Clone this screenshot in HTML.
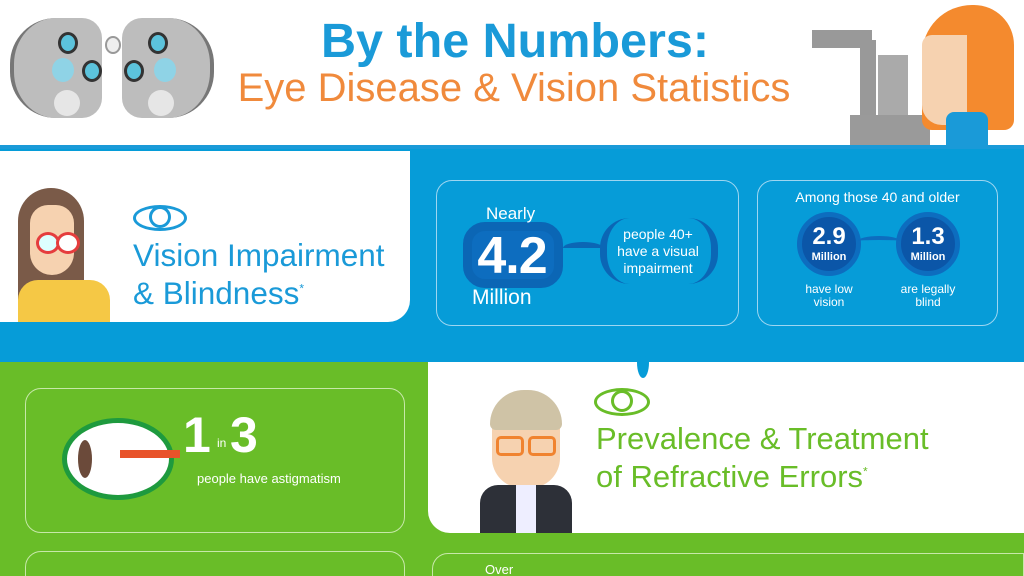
<!DOCTYPE html>
<html style="width:1024px;height:576px;overflow:hidden"><head><meta charset="utf-8"><style>
*{margin:0;padding:0;box-sizing:border-box}
body{width:1024px;height:576px;overflow:hidden;position:relative;background:#fff;font-family:"Liberation Sans",sans-serif}
.a{position:absolute}
.t{position:absolute;white-space:nowrap}
</style></head><body>
<div class="a" style="left:0;top:0;width:1024px;height:576px;overflow:hidden">
<div class="t" style="left:0;width:1030px;top:13px;text-align:center;font-size:48.5px;font-weight:bold;color:#1a9ad8">By the Numbers:</div>
<div class="t" style="left:0;width:1028px;top:66px;text-align:center;font-size:40px;color:#f08a3c">Eye Disease &amp; Vision Statistics</div>
<div class="a" style="left:10px;top:18px;width:92px;height:100px;background:#bdbdbd;border-radius:46px 20px 20px 46px;border-left:4px solid #777"></div>
<div class="a" style="left:122px;top:18px;width:92px;height:100px;background:#bdbdbd;border-radius:20px 46px 46px 20px;border-right:4px solid #777"></div>
<div class="a" style="left:58px;top:32px;width:20px;height:22px;border-radius:50%;background:#5cc3dc;border:3px solid #333"></div>
<div class="a" style="left:148px;top:32px;width:20px;height:22px;border-radius:50%;background:#5cc3dc;border:3px solid #333"></div>
<div class="a" style="left:82px;top:60px;width:20px;height:22px;border-radius:50%;background:#5cc3dc;border:3px solid #333"></div>
<div class="a" style="left:124px;top:60px;width:20px;height:22px;border-radius:50%;background:#5cc3dc;border:3px solid #333"></div>
<div class="a" style="left:52px;top:58px;width:22px;height:24px;border-radius:50%;background:#8fd3e6"></div>
<div class="a" style="left:154px;top:58px;width:22px;height:24px;border-radius:50%;background:#8fd3e6"></div>
<div class="a" style="left:54px;top:90px;width:26px;height:26px;border-radius:50%;background:#e6e6e6"></div>
<div class="a" style="left:148px;top:90px;width:26px;height:26px;border-radius:50%;background:#e6e6e6"></div>
<div class="a" style="left:105px;top:36px;width:16px;height:18px;border-radius:50%;background:#eee;border:2px solid #999"></div>
<div class="a" style="left:812px;top:30px;width:60px;height:18px;background:#999"></div>
<div class="a" style="left:860px;top:40px;width:16px;height:90px;background:#999"></div>
<div class="a" style="left:878px;top:55px;width:30px;height:70px;background:#aaa"></div>
<div class="a" style="left:850px;top:115px;width:80px;height:32px;background:#9a9a9a"></div>
<div class="a" style="left:922px;top:5px;width:92px;height:125px;background:#f48a2e;border-radius:50px 40px 10px 10px"></div>
<div class="a" style="left:922px;top:35px;width:45px;height:90px;background:#f6d2b0;border-radius:10px 0 0 20px"></div>
<div class="a" style="left:946px;top:112px;width:42px;height:36px;background:#1a9ad8;border-radius:8px 8px 0 0"></div>
<div class="a" style="left:0;top:145px;width:1024px;height:4px;background:#1a9ad8"></div>
<div class="a" style="left:0;top:149px;width:1024px;height:213px;background:#069cd8"></div>
<div class="a" style="left:0;top:151px;width:410px;height:171px;background:#fff;border-radius:0 0 22px 0"></div>
<div class="a" style="left:18px;top:188px;width:66px;height:130px;background:#7a5a48;border-radius:33px 33px 4px 4px"></div>
<div class="a" style="left:30px;top:205px;width:44px;height:70px;background:#f6d2b0;border-radius:18px 18px 22px 22px"></div>
<div class="a" style="left:18px;top:280px;width:92px;height:42px;background:#f5c845;border-radius:20px 20px 0 0"></div>
<div class="a" style="left:36px;top:232px;width:24px;height:22px;border-radius:50%;border:3px solid #e53d3d;background:#dff"></div>
<div class="a" style="left:56px;top:232px;width:24px;height:22px;border-radius:50%;border:3px solid #e53d3d;background:#fff"></div>
<div class="a" style="left:133px;top:205px;width:54px;height:26px;border:3px solid #1a9ad8;border-radius:50%"></div>
<div class="a" style="left:149px;top:206px;width:22px;height:22px;border:3px solid #1a9ad8;border-radius:50%;background:#fff"></div>
<div class="t" style="left:133px;top:237px;font-size:31.5px;color:#1a9ad8">Vision Impairment</div>
<div class="t" style="left:133px;top:275px;font-size:31.5px;color:#1a9ad8">&amp; Blindness<sup style="font-size:12px">*</sup></div>
<div class="a" style="left:436px;top:180px;width:303px;height:146px;border:1.5px solid #9dd6f1;border-radius:16px"></div>
<div class="a" style="left:463px;top:222px;width:100px;height:66px;border:9px solid #0b66b5;border-radius:22px;background:#0d6dbf"></div>
<div class="a" style="left:563px;top:242px;width:40px;height:12px;border-top:6px solid #0b66b5;border-radius:50% 50% 0 0"></div>
<div class="a" style="left:600px;top:218px;width:118px;height:66px;border-left:7px solid #0b66b5;border-right:7px solid #0b66b5;border-radius:30px"></div>
<div class="t" style="left:486px;top:204px;font-size:17px;color:#fff">Nearly</div>
<div class="t" style="left:466px;top:226px;width:92px;text-align:center;font-size:52px;font-weight:bold;color:#fff;letter-spacing:-1px">4.2</div>
<div class="t" style="left:472px;top:286px;font-size:21px;color:#fff">Million</div>
<div class="t" style="left:606px;top:226px;width:104px;text-align:center;font-size:14px;line-height:17px;color:#fff">people 40+<br>have a visual<br>impairment</div>
<div class="a" style="left:757px;top:180px;width:241px;height:146px;border:1.5px solid #9dd6f1;border-radius:16px"></div>
<div class="t" style="left:757px;top:189px;width:241px;text-align:center;font-size:14px;color:#fff">Among those 40 and older</div>
<div class="a" style="left:797px;top:212px;width:64px;height:64px;border-radius:50%;background:#0b56a8;border:5px solid #0d6dbf"></div>
<div class="a" style="left:896px;top:212px;width:64px;height:64px;border-radius:50%;background:#0b56a8;border:5px solid #0d6dbf"></div>
<div class="a" style="left:858px;top:236px;width:42px;height:10px;border-top:4px solid #0d6dbf;border-radius:50% 50% 0 0"></div>
<div class="t" style="left:797px;top:223px;width:64px;text-align:center;font-size:24px;font-weight:bold;color:#fff">2.9</div>
<div class="t" style="left:797px;top:251px;width:64px;text-align:center;font-size:11px;font-weight:bold;color:#fff">Million</div>
<div class="t" style="left:896px;top:223px;width:64px;text-align:center;font-size:24px;font-weight:bold;color:#fff">1.3</div>
<div class="t" style="left:896px;top:251px;width:64px;text-align:center;font-size:11px;font-weight:bold;color:#fff">Million</div>
<div class="t" style="left:792px;top:283px;width:74px;text-align:center;font-size:12px;line-height:13px;color:#fff">have low<br>vision</div>
<div class="t" style="left:891px;top:283px;width:74px;text-align:center;font-size:12px;line-height:13px;color:#fff">are legally<br>blind</div>
<div class="a" style="left:0;top:362px;width:1024px;height:214px;background:#69bd28"></div>
<div class="a" style="left:428px;top:362px;width:596px;height:171px;background:#fff;border-radius:0 0 0 22px"></div>
<div class="a" style="left:637px;top:356px;width:12px;height:22px;background:#069cd8;border-radius:50% 50% 50% 50%/30% 30% 70% 70%"></div>
<div class="a" style="left:25px;top:388px;width:380px;height:145px;border:1.5px solid #c7e8a9;border-radius:16px"></div>
<div class="a" style="left:25px;top:551px;width:380px;height:30px;border:1.5px solid #c7e8a9;border-radius:16px 16px 0 0"></div>
<div class="a" style="left:432px;top:553px;width:592px;height:30px;border:1.5px solid #c7e8a9;border-radius:16px 0 0 0"></div>
<div class="t" style="left:485px;top:563px;font-size:13px;line-height:14px;color:#fff">Over</div>
<div class="a" style="left:62px;top:418px;width:112px;height:82px;border-radius:50%;border:5px solid #1e9a3e;background:#fff"></div>
<div class="a" style="left:78px;top:440px;width:14px;height:38px;border-radius:50%;background:#6b4a3a"></div>
<div class="a" style="left:120px;top:450px;width:60px;height:8px;background:#e8532a"></div>
<div class="t" style="left:183px;top:406px;font-size:50px;font-weight:bold;color:#fff">1</div>
<div class="t" style="left:217px;top:436px;font-size:12px;color:#fff">in</div>
<div class="t" style="left:230px;top:406px;font-size:50px;font-weight:bold;color:#fff">3</div>
<div class="t" style="left:197px;top:471px;font-size:13px;color:#fff">people have astigmatism</div>
<div class="a" style="left:492px;top:393px;width:68px;height:95px;background:#f6d2b0;border-radius:30px"></div>
<div class="a" style="left:490px;top:390px;width:72px;height:40px;background:#cfc3a6;border-radius:34px 34px 6px 6px"></div>
<div class="a" style="left:496px;top:436px;width:28px;height:20px;border:3px solid #f0832f;border-radius:5px"></div>
<div class="a" style="left:528px;top:436px;width:28px;height:20px;border:3px solid #f0832f;border-radius:5px"></div>
<div class="a" style="left:480px;top:485px;width:92px;height:48px;background:#2d3038;border-radius:18px 18px 0 0"></div>
<div class="a" style="left:516px;top:485px;width:20px;height:48px;background:#eef"></div>
<div class="a" style="left:594px;top:388px;width:56px;height:28px;border:3px solid #69bd28;border-radius:50%"></div>
<div class="a" style="left:611px;top:390px;width:22px;height:22px;border:3px solid #69bd28;border-radius:50%;background:#fff"></div>
<div class="t" style="left:596px;top:421px;font-size:31px;color:#69bd28">Prevalence &amp; Treatment</div>
<div class="t" style="left:596px;top:459px;font-size:31px;color:#69bd28">of Refractive Errors<sup style="font-size:12px">*</sup></div>
</div>
</body></html>
